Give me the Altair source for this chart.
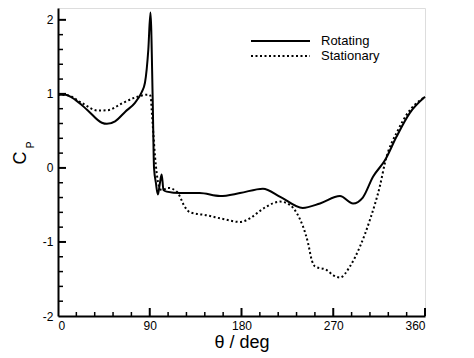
import altair as alt
import pandas as pd

# Rotating (solid)
theta_rot = [0, 7, 17, 29, 43, 48, 56, 66, 75.5, 82, 85.3, 88.6, 90.7, 92.9, 94.2, 96, 98, 100,
             101.7, 103.5, 106.6, 120, 139, 159, 178.5, 201, 218, 240, 257, 276.6, 289.4, 299,
             309, 321, 332, 345, 360]
cp_rot = [0.99, 0.99, 0.92, 0.78, 0.61, 0.595, 0.63, 0.76, 0.88, 1.02, 1.15, 1.6, 2.1, 0.92, 0.0,
          -0.2, -0.36, -0.2, -0.09, -0.3, -0.32, -0.34, -0.34, -0.38, -0.34, -0.28, -0.39, -0.54,
          -0.48, -0.38, -0.48, -0.40, -0.12, 0.11, 0.42, 0.74, 0.96]

# Stationary (dotted)
theta_st = [0, 10, 23, 39, 49, 62.5, 75.5, 88.3, 90.9, 91.9, 93.5, 95.2, 96.8, 99.4, 101.7, 108,
            116.4, 119.7, 122.6, 127.5, 129.5, 146, 162, 178.5, 188.3, 198.2, 204.7, 217.8, 227.6,
            234.2, 240.3, 245.2, 249, 252.1, 263.6, 270.1, 276.6, 286.4, 296.3, 306, 316, 321,
            333.5, 342, 360]
cp_st = [0.99, 0.98, 0.88, 0.775, 0.78, 0.87, 0.95, 0.99, 0.97, 0.78, 0.47, 0.15, -0.07, -0.26,
         -0.30, -0.27, -0.32, -0.39, -0.48, -0.58, -0.60, -0.64, -0.69, -0.73, -0.68, -0.58, -0.52,
         -0.455, -0.50, -0.61, -0.79, -1.01, -1.25, -1.33, -1.38, -1.45, -1.48, -1.33, -1.06, -0.70,
         -0.23, 0.085, 0.51, 0.72, 0.96]

x_labels = [0, 90, 180, 270, 360]
y_labels = [-2, -1, 0, 1, 2]
x_major = [90, 180, 270, 360]
x_minor = [v for v in range(18, 360, 18) if v % 90 != 0]
y_major = [-1, 0, 1, 2]
y_minor = [round(-2 + 0.2 * i, 1) for i in range(1, 20) if (i % 5) != 0]
series_names = ["Rotating", "Stationary"]

FONT = "Liberation Sans"
W, H = 367, 308

xs = alt.Scale(domain=[0, 360], nice=False)
ys = alt.Scale(domain=[-2, 2.16], nice=False)

df_rot = pd.DataFrame({"theta": theta_rot, "cp": cp_rot})
df_st = pd.DataFrame({"theta": theta_st, "cp": cp_st})

xaxis = alt.Axis(values=x_labels, title="θ / deg", grid=False, ticks=False, domainColor="black",
                 domainWidth=2, labelFont=FONT, labelFontSize=12, labelColor="black",
                 labelPadding=4, titleFont=FONT, titleFontSize=18, titleFontWeight="normal",
                 titleColor="black", titlePadding=2)
yaxis = alt.Axis(values=y_labels, title=None, grid=False, ticks=False, domainColor="black",
                 domainWidth=2, labelFont=FONT, labelFontSize=12, labelColor="black",
                 labelPadding=5, labelExpr="'' + datum.value")

base_rot = alt.Chart(df_rot).mark_line(color="black", strokeWidth=2, interpolate="monotone").encode(
    x=alt.X("theta:Q", scale=xs, axis=xaxis),
    y=alt.Y("cp:Q", scale=ys, axis=yaxis),
)
line_st = alt.Chart(df_st).mark_line(color="black", strokeWidth=2, strokeDash=[2, 2.5],
                                     interpolate="monotone").encode(
    x=alt.X("theta:Q", scale=xs),
    y=alt.Y("cp:Q", scale=ys),
)

xmaj = alt.Chart(pd.DataFrame({"v": x_major})).mark_rule(color="black", strokeWidth=2).encode(
    x=alt.X("v:Q", scale=xs), y=alt.value(H), y2=alt.value(H - 8))
xmin = alt.Chart(pd.DataFrame({"v": x_minor})).mark_rule(color="black", strokeWidth=1.5).encode(
    x=alt.X("v:Q", scale=xs), y=alt.value(H), y2=alt.value(H - 4))
ymaj = alt.Chart(pd.DataFrame({"v": y_major})).mark_rule(color="black", strokeWidth=2).encode(
    y=alt.Y("v:Q", scale=ys), x=alt.value(0), x2=alt.value(8))
ymin = alt.Chart(pd.DataFrame({"v": y_minor})).mark_rule(color="black", strokeWidth=1.5).encode(
    y=alt.Y("v:Q", scale=ys), x=alt.value(0), x2=alt.value(5))

leg_df1 = pd.DataFrame({"s": [series_names[0]]})
leg_df2 = pd.DataFrame({"s": [series_names[1]]})
leg_l1 = alt.Chart(leg_df1).mark_rule(color="black", strokeWidth=2).encode(
    x=alt.value(193), x2=alt.value(252), y=alt.value(33))
leg_l2 = alt.Chart(leg_df2).mark_rule(color="black", strokeWidth=2, strokeDash=[2, 2.5]).encode(
    x=alt.value(193), x2=alt.value(252), y=alt.value(48))
leg_t1 = alt.Chart(leg_df1).mark_text(font=FONT, fontSize=13, align="left", baseline="middle",
                                      color="black").encode(
    x=alt.value(263), y=alt.value(33), text="s:N")
leg_t2 = alt.Chart(leg_df2).mark_text(font=FONT, fontSize=13, align="left", baseline="middle",
                                      color="black").encode(
    x=alt.value(263), y=alt.value(48), text="s:N")

ttl_df = pd.DataFrame({"c": ["C"], "p": ["P"]})
ttl_c = alt.Chart(ttl_df).mark_text(font=FONT, fontSize=18, angle=270, align="center",
                                    baseline="middle", color="black").encode(
    x=alt.value(-37), y=alt.value(150), text="c:N")
ttl_p = alt.Chart(ttl_df).mark_text(font=FONT, fontSize=10, angle=270, align="center",
                                    baseline="middle", color="black").encode(
    x=alt.value(-27), y=alt.value(137), text="p:N")

chart = alt.layer(base_rot, line_st, xmaj, xmin, ymaj, ymin, leg_l1, leg_l2, leg_t1, leg_t2,
                  ttl_c, ttl_p).properties(
    width=W, height=H,
    autosize=alt.AutoSizeParams(type="none"),
    padding={"left": 50, "top": 0, "right": 20, "bottom": 42},
).configure_view(stroke=None).configure(background="white")

chart.save("out.html", embed_options={"renderer": "svg", "actions": False})
